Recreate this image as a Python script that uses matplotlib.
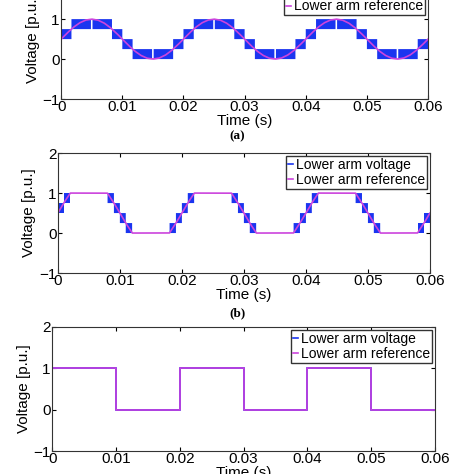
import numpy as np
import matplotlib
matplotlib.use("Agg")
import matplotlib.pyplot as plt

plt.rcParams['font.family'] = ['Liberation Sans', 'DejaVu Sans']

t_ms = np.arange(0, 61) * 0.001
ref_a = [0.5,0.655,0.794,0.905,0.976,1,0.976,0.905,0.794,0.655,0.5,0.345,0.206,0.095,0.024,0,0.024,0.095,0.206,0.345,
         0.5,0.655,0.794,0.905,0.976,1,0.976,0.905,0.794,0.655,0.5,0.345,0.206,0.095,0.024,0,0.024,0.095,0.206,0.345,
         0.5,0.655,0.794,0.905,0.976,1,0.976,0.905,0.794,0.655,0.5,0.345,0.206,0.095,0.024,0,0.024,0.095,0.206,0.345,0.5]
ref_b = [0.5,0.763,1,1,1,1,1,1,1,0.763,0.5,0.237,0,0,0,0,0,0,0,0.237,
         0.5,0.763,1,1,1,1,1,1,1,0.763,0.5,0.237,0,0,0,0,0,0,0,0.237,
         0.5,0.763,1,1,1,1,1,1,1,0.763,0.5,0.237,0,0,0,0,0,0,0,0.237,0.5]
t_c = [0, 0.01, 0.01, 0.02, 0.02, 0.03, 0.03, 0.04, 0.04, 0.05, 0.05, 0.06]
ref_c = [1, 1, 0, 0, 1, 1, 0, 0, 1, 1, 0, 0]

BLUE = '#1a35f0'
PURP = '#cc44dd'

fig = plt.figure(figsize=(4.74, 4.74), dpi=100)
rects = [[0.129, 0.791, 0.774, 0.253], [0.122, 0.424, 0.785, 0.253], [0.110, 0.0485, 0.808, 0.262]]
axes = [fig.add_axes(r) for r in rects]

def band(ax, t, r):
    td = np.linspace(0, 0.06, 6001)
    rd = np.interp(td, t, r)
    lo = np.minimum(np.floor(rd * 4) / 4, 0.75)
    hi = lo + 0.25
    m = (rd > 0.003) & (rd < 0.997)
    ax.fill_between(td, lo, hi, where=m, color=BLUE, linewidth=0, step='mid')
    return td, rd

for i, ax in enumerate(axes):
    if i < 2:
        r = ref_a if i == 0 else ref_b
        td, rd = band(ax, t_ms, r)
        ax.plot(td, rd, color=PURP, lw=1.2)
    else:
        ax.plot(t_c, ref_c, color=BLUE, lw=1.4)
        ax.plot(t_c, ref_c, color=PURP, lw=1.2)
    h1, = ax.plot([], [], color=BLUE, lw=1.2)
    h2, = ax.plot([], [], color=PURP, lw=1.2)
    ax.legend([h1, h2], ['Lower arm voltage', 'Lower arm reference'], loc='upper right',
              handlelength=0.4, handletextpad=0.2, borderpad=0.15, labelspacing=0.1,
              fancybox=False, edgecolor='#333333', fontsize=10, framealpha=1,
              borderaxespad=0.2)
    ax.set_xlim(0, 0.06)
    ax.set_ylim(-1, 2)
    ax.set_xticks([0, 0.01, 0.02, 0.03, 0.04, 0.05, 0.06])
    ax.set_xticklabels(['0', '0.01', '0.02', '0.03', '0.04', '0.05', '0.06'])
    ax.set_yticks([-1, 0, 1, 2])
    ax.tick_params(direction='in', top=True, right=True, labelsize=11, pad=1, length=3)
    ax.set_ylabel('Voltage [p.u.]', fontsize=11, labelpad=2)
    ax.set_xlabel('Time (s)', fontsize=11, labelpad=0)
    for s in ax.spines.values():
        s.set_color('#333333')

fig.text(0.5, 1 - 136/474, '(a)', ha='center', va='center', fontsize=9.5, family='Liberation Serif', weight='bold')
fig.text(0.5, 1 - 313/474, '(b)', ha='center', va='center', fontsize=9.5, family='Liberation Serif', weight='bold')

fig.savefig('out.png', dpi=100)
